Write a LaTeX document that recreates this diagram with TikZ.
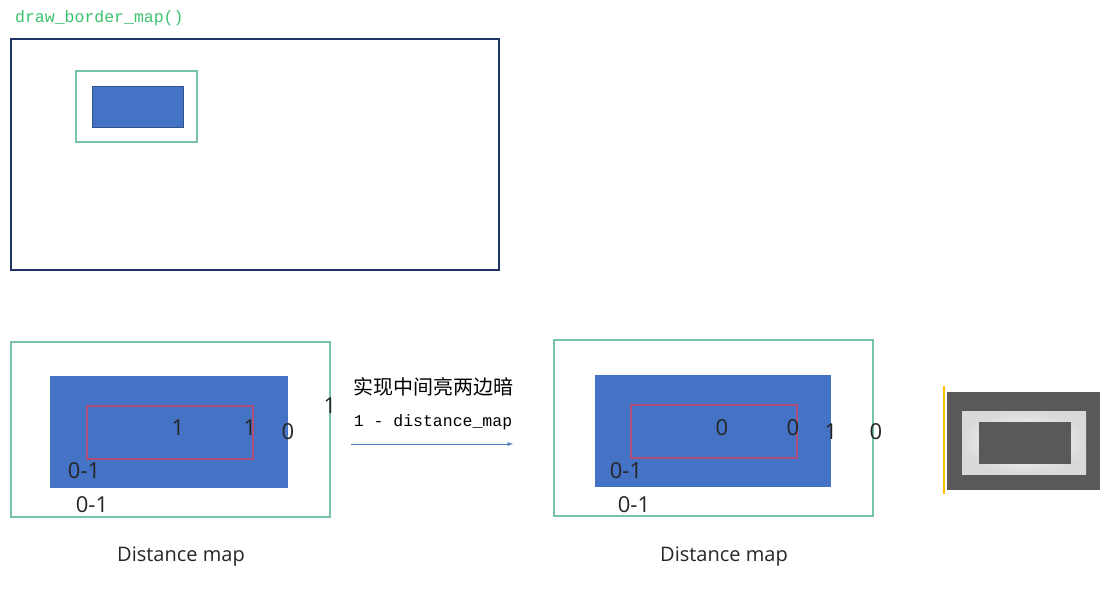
\documentclass[tikz,border=0pt]{standalone}
\usepackage{fontspec}
\setmainfont{Open Sans}
\setmonofont{Liberation Mono}
\newfontfamily\cjk{Noto Sans CJK SC}
\usetikzlibrary{positioning}

\definecolor{navy}{HTML}{1F3264}
\definecolor{mint}{HTML}{79C3A5}
\definecolor{boxblue}{HTML}{4472C4}
\definecolor{boxedge}{HTML}{2F528F}
\definecolor{redline}{HTML}{B0507A}
\definecolor{codegreen}{HTML}{3CC36E}
\definecolor{arrowblue}{HTML}{4A7EBB}
\definecolor{darkgray}{HTML}{595959}
\definecolor{lightgray}{HTML}{D9D9D9}
\definecolor{yellowline}{HTML}{FFC000}

\tikzset{
  num/.style={font=\fontsize{22}{24}\selectfont, text=black!85, inner sep=0pt},
  maplabel/.style={font=\fontsize{20}{22}\selectfont, text=black!85, inner sep=0pt},
  code/.style={font=\ttfamily\fontsize{16.5}{18}\selectfont, inner sep=0pt},
  inner box/.style={draw=redline, line width=1.3pt}
}

\begin{document}
\begin{tikzpicture}[x=1pt, y=-1pt]
    \useasboundingbox (0,0) rectangle (1113,594);
%
    % top: border map
    \node[code, text=codegreen, anchor=west] (title) at (15,18) {draw\_border\_map()};
    \draw[navy, line width=2.8pt] (11,39) rectangle (499,270);
    \draw[mint, line width=1.2pt] (76,71) rectangle (197,142);
    \draw[boxedge, fill=boxblue, line width=1pt] (92,86) rectangle (183,127);
%
    % left distance map
    \draw[mint, line width=1.2pt] (11,342) rectangle (330,517);
    \fill[boxblue] (50,376) rectangle (288,488);
    \path[inner box] (87,406) -- (253,406) -- (253,459) -- (87,459) -- cycle;
    \node[num] (la) at (178,428) {1};
    \node[num] (lb) at (250,428) {1};
    \node[num] (lc) at (288,432) {0};
    \node[num] (ld) at (330,406) {1};
    \node[num] (le) at (84,471) {0-1};
    \node[num] (lf) at (92,505) {0-1};
    \node[maplabel] (lcap) at (181,557) {Distance map};
%
    % arrow
    \node[font=\cjk\fontsize{20}{22}\selectfont, inner sep=0pt] (hint) at (433,387) {实现中间亮两边暗};
    \node[code, text=black] (formula) at (433,422) {1 - distance\_map};
    \coordinate (arrS) at (351,444);
    \coordinate (arrE) at (513,444);
    \draw[arrowblue, line width=0.9pt, -latex] (arrS) -- (arrE);
%
    % right distance map
    \draw[mint, line width=1.2pt] (554,340) rectangle (873,516);
    \fill[boxblue] (595,375) rectangle (831,487);
    \path[inner box] (631,405) -- (797,405) -- (797,458) -- (631,458) -- cycle;
    \node[num] (ra) at (722,428) {0};
    \node[num] (rb) at (793,428) {0};
    \node[num] (rc) at (831,432) {1};
    \node[num] (rd) at (876,432) {0};
    \node[num] (re) at (626,471) {0-1};
    \node[num] (rf) at (634,505) {0-1};
    \node[maplabel] (rcap) at (724,557) {Distance map};
%
    % result image
    \draw[yellowline, line width=1.5pt] (944,386) -- (944,494);
    \fill[darkgray] (947,392) rectangle (1100,490);
    \shade[inner color=white, outer color=lightgray] (962,411) rectangle (1086,474);
    \fill[darkgray] (979,422) rectangle (1071,464);
\end{tikzpicture}
\end{document}
